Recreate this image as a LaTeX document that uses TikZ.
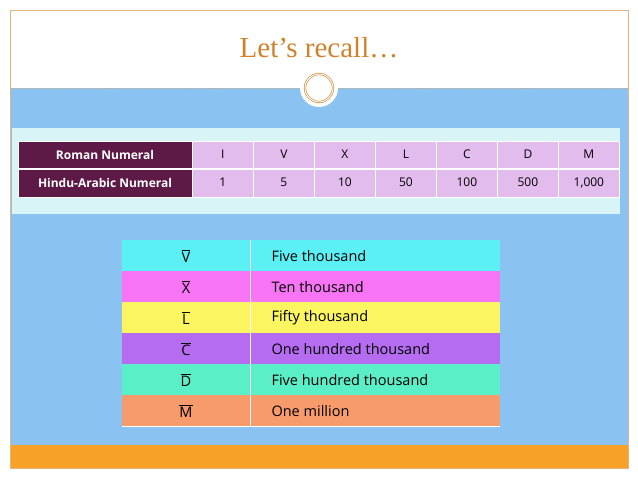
\documentclass[tikz,border=0pt]{standalone}
\usepackage{amsmath}
\usepackage{fontspec}
\setsansfont{Open Sans}
\newfontfamily\titlefont{Liberation Serif}
\usetikzlibrary{positioning}
\definecolor{slideblue}{HTML}{8AC3F2}
\definecolor{slideorange}{HTML}{F7A128}
\definecolor{titlebrown}{HTML}{D0822A}
\definecolor{headmaroon}{HTML}{5E1A46}
\definecolor{cellpink}{HTML}{E2BCEC}
\definecolor{bandcyan}{HTML}{D9F4F6}
\definecolor{rowcyan}{HTML}{5BF1F4}
\definecolor{rowmagenta}{HTML}{F774F4}
\definecolor{rowyellow}{HTML}{FAF560}
\definecolor{rowpurple}{HTML}{B56CF0}
\definecolor{rowgreen}{HTML}{5BEFC8}
\definecolor{roworange}{HTML}{F89B6C}
\tikzset{
  head/.style={fill=headmaroon, draw=white, line width=0.8pt, text=white, font=\sffamily\bfseries\fontsize{12}{14}\selectfont},
  cell/.style={fill=cellpink, draw=white, line width=0.8pt, text height=9pt, text depth=2.5pt, font=\sffamily\fontsize{12}{14}\selectfont},
  row/.style={draw=white, line width=0.8pt},
  rowtext/.style={font=\sffamily\fontsize{14.5}{16}\selectfont, anchor=west},
}
\begin{document}
\begin{tikzpicture}[x=1pt,y=-1pt]
  \useasboundingbox (0,0) rectangle (638,478);
  \fill[white] (0,0) rectangle (638,478);
  % slide frame
  \fill[slideblue] (10,88) rectangle (628,445);
  \fill[slideorange] (10,445) rectangle (628,468);
  \draw[titlebrown!60, line width=0.5pt] (10,10) rectangle (628,468);
  \draw[titlebrown!70, dotted, line width=0.6pt] (10,88) -- (628,88);
  \node[font=\titlefont\fontsize{29}{32}\selectfont, text=titlebrown] (title) at (319,48) {Let’s recall…};
  \fill[white] (319,88) circle (19);
  \draw[titlebrown, line width=0.6pt, double=white, double distance=1pt] (319,88) circle (14);
  % upper table
  \fill[bandcyan] (12,128) rectangle (620,214);
  \node[head, minimum width=174pt, minimum height=27pt] (rn) at (105,155) {Roman Numeral};
  \node[head, minimum width=174pt, minimum height=28pt, below=0pt of rn] (ha) {Hindu-Arabic Numeral};
  \foreach \r/\a [count=\i] in {I/1,V/5,X/10,L/50,C/100,D/500,M/{1,000}}{
    \node[cell, minimum width=61pt, minimum height=27pt, anchor=west] (r\i) at (192+61*\i-61,155) {\r};
    \node[cell, minimum width=61pt, minimum height=28pt, below=0pt of r\i] (a\i) {\a};
  }
  % lower table
  \foreach \c/\s/\t [count=\i] in {
      rowcyan/V/Five thousand,
      rowmagenta/X/Ten thousand,
      rowyellow/L/Fifty thousand,
      rowpurple/C/One hundred thousand,
      rowgreen/D/Five hundred thousand,
      roworange/M/One million}{
    \fill[\c] (122,209+31*\i) rectangle (500,240+31*\i);
    \draw[row] (250,209+31*\i) -- (250,240+31*\i);
    \draw[row] (122,240+31*\i) -- (500,240+31*\i);
    \node[font=\sffamily\fontsize{14.5}{16}\selectfont] (s\i) at (186,225+31*\i) {$\overline{\text{\s}}$};
    \node[rowtext] (t\i) at (268,225+31*\i) {\t};
  }
\end{tikzpicture}
\end{document}
